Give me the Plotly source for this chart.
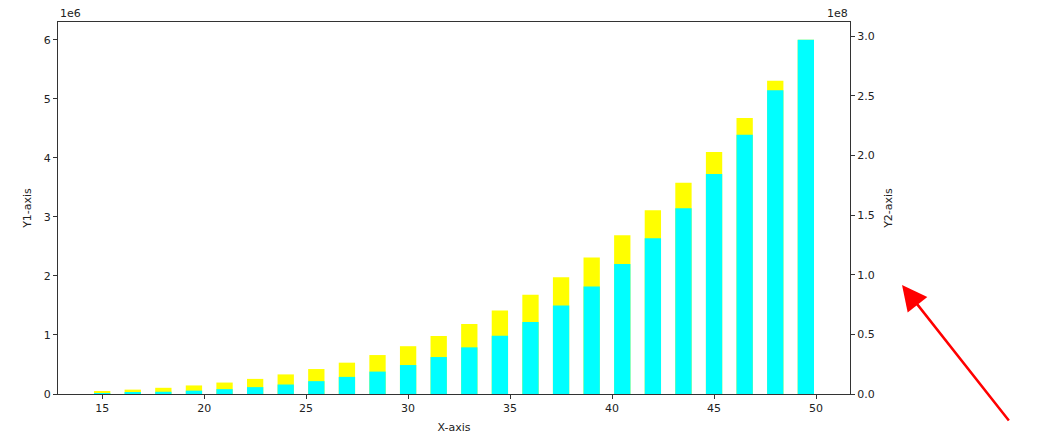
import plotly.graph_objects as go

# x positions of the bars
x = [15, 16.5, 18, 19.5, 21, 22.5, 24, 25.5, 27, 28.5, 30, 31.5,
     33, 34.5, 36, 37.5, 39, 40.5, 42, 43.5, 45, 46.5, 48, 49.5]

# left axis series (units of 1e6)
y1 = [0.051, 0.074, 0.105, 0.145, 0.194, 0.256, 0.332, 0.423, 0.531, 0.660, 0.810, 0.985,
      1.186, 1.417, 1.680, 1.978, 2.313, 2.690, 3.112, 3.581, 4.101, 4.676, 5.308, 6.004]

# right axis series (units of 1e8)
y2 = [0.0076, 0.0122, 0.0189, 0.0282, 0.0408, 0.0577, 0.0796, 0.1078, 0.1435, 0.1880, 0.2430, 0.3101,
      0.3914, 0.4888, 0.6047, 0.7416, 0.9022, 1.0896, 1.3069, 1.5576, 1.8453, 2.1742, 2.5480, 2.9718]

x_ticks = [15, 20, 25, 30, 35, 40, 45, 50]
y1_ticks = [0, 1, 2, 3, 4, 5, 6]
y2_ticks = [0.0, 0.5, 1.0, 1.5, 2.0, 2.5, 3.0]

font = dict(family='DejaVu Sans', size=11, color='#222222')

fig = go.Figure()

fig.add_trace(go.Bar(
    x=x, y=y1, width=0.8,
    marker=dict(color='yellow', line=dict(width=0)),
    name='y1', yaxis='y'
))
fig.add_trace(go.Bar(
    x=x, y=y2, width=0.8,
    marker=dict(color='cyan', line=dict(width=0)),
    name='y2', yaxis='y2'
))

axis_common = dict(
    showgrid=False, zeroline=False, automargin=False,
    showline=True, linecolor='#333333', linewidth=1,
    ticks='outside', ticklen=4, tickwidth=1, tickcolor='#333333',
    tickfont=font,
)

# the page body adds 8px on the top and left, so the margins make up for it
fig.update_layout(
    width=1053, height=448,
    margin=dict(l=50, r=211, t=14, b=62),
    plot_bgcolor='white', paper_bgcolor='white',
    barmode='overlay',
    showlegend=False,
    font=font,
    xaxis=dict(
        range=[12.835, 51.665],
        tickvals=x_ticks,
        mirror=True,
        title=dict(text='X-axis', font=font, standoff=9),
        **axis_common
    ),
    yaxis=dict(
        range=[0, 6.304],
        tickvals=y1_ticks,
        title=dict(text='Y1-axis', font=font, standoff=9),
        **axis_common
    ),
    yaxis2=dict(
        range=[0, 3.1204],
        tickvals=y2_ticks,
        tickformat='.1f',
        overlaying='y', side='right',
        title=dict(text='Y2-axis', font=font, standoff=10),
        **axis_common
    ),
    annotations=[
        dict(text='1e6', xref='paper', yref='paper', x=0, y=1,
             xanchor='left', yanchor='bottom', showarrow=False, font=font),
        dict(text='1e8', xref='paper', yref='paper', x=1, y=1,
             xanchor='right', yanchor='bottom', showarrow=False, font=font),
        dict(text='', xref='paper', yref='paper', x=1.0657, y=0.293,
             ax=108, ay=137, showarrow=True, arrowhead=2, arrowsize=2,
             arrowwidth=2.5, arrowcolor='red', standoff=0),
    ],
)

fig.write_html("out.html")
